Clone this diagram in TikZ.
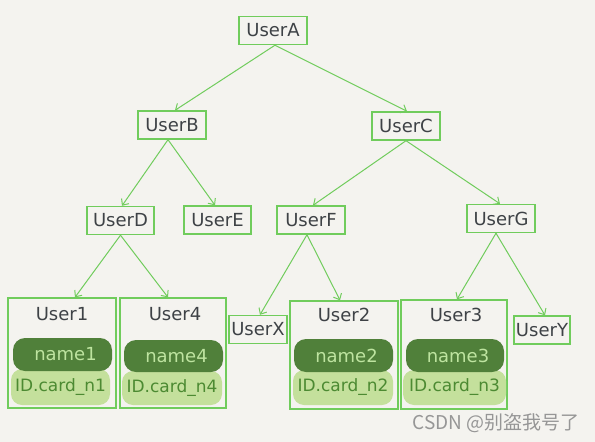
\documentclass[tikz,border=0pt]{standalone}
\usepackage{fontspec}
\setmainfont{DejaVu Sans}
\newfontfamily\cjk{Noto Sans CJK SC}
\usetikzlibrary{arrows.meta}
\definecolor{bgc}{RGB}{244,243,239}
\definecolor{lineg}{RGB}{112,204,92}
\definecolor{txt}{RGB}{62,66,70}
\definecolor{darkpill}{RGB}{80,128,58}
\definecolor{darktxt}{RGB}{190,228,160}
\definecolor{lightpill}{RGB}{196,224,156}
\definecolor{lighttxt}{RGB}{76,138,50}
\definecolor{wm}{RGB}{150,150,150}
\tikzset{
  user/.style={draw=lineg, line width=1.4pt, fill=bgc, inner sep=0pt, minimum height=28pt, text=txt, font=\fontsize{18}{20}\selectfont},
  bigbox/.style={draw=lineg, line width=1.4pt, fill=bgc, inner sep=0pt},
  lbl/.style={text=txt, inner sep=0pt, font=\fontsize{18}{20}\selectfont},
  dpill/.style={fill=darkpill, rounded corners=12pt, inner sep=0pt, text=darktxt, font=\fontsize{18}{20}\selectfont},
  lpill/.style={fill=lightpill, rounded corners=11pt, inner sep=0pt, text=lighttxt, font=\fontsize{17}{19}\selectfont},
  conn/.style={draw=lineg, line width=1pt, -{Straight Barb[length=5pt,width=9pt]}}
}
\begin{document}
\begin{tikzpicture}[x=1pt,y=-1pt]
\fill[bgc] (0,0) rectangle (595,442);
\useasboundingbox (0,0) rectangle (595,442);

% upper levels
\node[user, minimum width=68pt] (A) at (273,30.5) {UserA};
\node[user, minimum width=68pt] (B) at (172,125) {UserB};
\node[user, minimum width=68pt] (C) at (406,126) {UserC};
\node[user, minimum width=67pt] (D) at (120.5,220.5) {UserD};
\node[user, minimum width=67pt] (E) at (217.5,220) {UserE};
\node[user, minimum width=68pt] (F) at (311,220) {UserF};
\node[user, minimum width=68pt] (G) at (501,218.5) {UserG};
\node[user, minimum width=58pt] (X) at (258,329.5) {UserX};
\node[user, minimum width=56pt] (Y) at (542,330) {UserY};

% leaf boxes
\node[bigbox, minimum width=108pt, minimum height=110pt] (U1) at (62,353) {};
\node[bigbox, minimum width=106pt, minimum height=110pt] (U4) at (173,353) {};
\node[bigbox, minimum width=108pt, minimum height=108pt] (U2) at (344,355) {};
\node[bigbox, minimum width=106pt, minimum height=109pt] (U3) at (454,354.5) {};

\node[lbl] (U1t) at (62,314) {User1};
\node[lbl] (U4t) at (175,314) {User4};
\node[lbl] (U2t) at (344,315) {User2};
\node[lbl] (U3t) at (456,315) {User3};

\node[lpill, minimum width=99pt, minimum height=36pt] (U1c) at (60.5,387) {ID.card\_n1};
\node[dpill, minimum width=99pt, minimum height=33pt] (U1n) at (62.5,354.5) {\hspace{6pt}name1};
\node[lpill, minimum width=100pt, minimum height=34pt] (U4c) at (172,388) {ID.card\_n4};
\node[dpill, minimum width=99pt, minimum height=32pt] (U4n) at (173.5,356) {\hspace{6pt}name4};
\node[lpill, minimum width=100pt, minimum height=35pt] (U2c) at (343,387.5) {ID.card\_n2};
\node[dpill, minimum width=99pt, minimum height=33pt] (U2n) at (343.5,355.5) {\hspace{6pt}name2};
\node[lpill, minimum width=103pt, minimum height=35pt] (U3c) at (454.5,387.5) {ID.card\_n3};
\node[dpill, minimum width=98pt, minimum height=33pt] (U3n) at (455,355.5) {\hspace{6pt}name3};

% connectors
\draw[conn] ([xshift=2pt]A.south) -- ([xshift=3pt]B.north);
\draw[conn] ([xshift=2pt]A.south) -- ([xshift=1pt]C.north);
\draw[conn] ([xshift=-4pt]B.south) -- ([xshift=1.5pt]D.north);
\draw[conn] ([xshift=-4pt]B.south) -- ([xshift=-2.5pt]E.north);
\draw[conn] (C.south) -- ([xshift=2pt]F.north);
\draw[conn] (C.south) -- ([xshift=-1pt]G.north);
\draw[conn] (D.south) -- ([xshift=13pt]U1.north);
\draw[conn] (D.south) -- ([xshift=-5pt]U4.north);
\draw[conn] ([xshift=-4pt]F.south) -- ([xshift=2pt]X.north);
\draw[conn] ([xshift=-4pt]F.south) -- ([xshift=-4pt]U2.north);
\draw[conn] ([xshift=-5pt]G.south) -- ([xshift=3pt]U3.north);
\draw[conn] ([xshift=-5pt]G.south) -- ([xshift=3pt]Y.north);

% watermark
\node[text=wm, inner sep=0pt, font=\cjk\fontsize{19}{21}\selectfont] (wmk) at (496,423) {CSDN @别盗我号了};
\end{tikzpicture}
\end{document}
